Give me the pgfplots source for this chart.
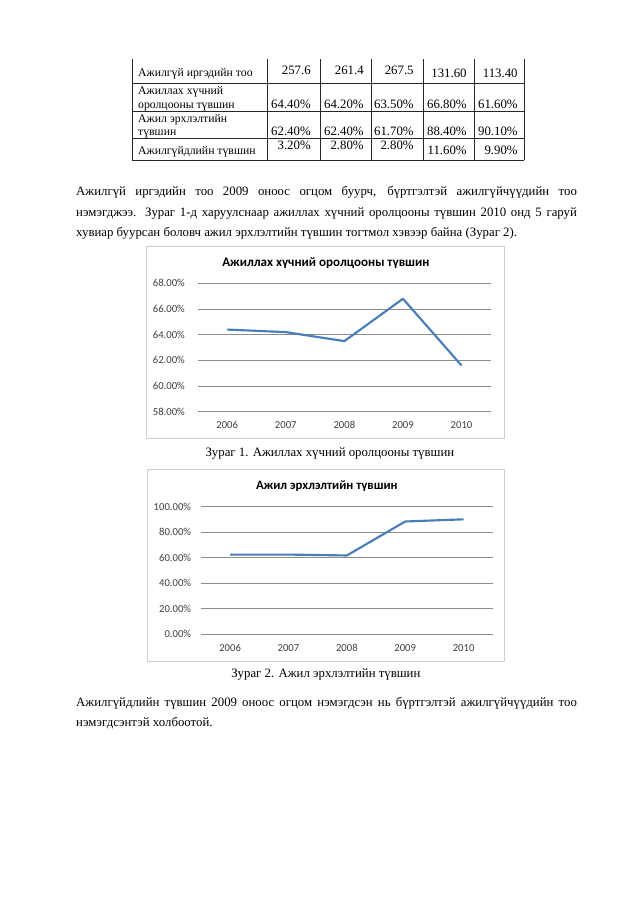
\documentclass[border=0pt]{standalone}
\usepackage{fontspec}
\setmainfont{Liberation Serif}
\newfontfamily\calibri{Carlito}
\usepackage{pgfplots}
\pgfplotsset{compat=1.18}
\definecolor{exblue}{HTML}{4A7EBB}
\definecolor{exgrid}{HTML}{8C8C8C}
\definecolor{exframe}{HTML}{CFCFCF}
\definecolor{extick}{HTML}{404040}
\newcommand{\bodyfont}{\fontsize{12}{14}\selectfont}
\newcommand{\tabfont}{\fontsize{12}{14}\selectfont}
\newcommand{\labfont}{\fontsize{11}{13}\selectfont}
\begin{document}
\begin{tikzpicture}[x=0.93304bp,y=-0.93336bp]
\fill[white] (0,0) rectangle (638,902);
% ---------- table ----------
\begin{scope}[line width=0.5bp]
\foreach \x in {132,267,320,371,423,474,524} \draw[black!85] (\x,59) -- (\x,160);
\foreach \y in {83,111.5,138.5,160} \draw[black!85] (132,\y) -- (524,\y);
\end{scope}
\begin{scope}[every node/.style={inner sep=0pt, font=\labfont}]
\node[anchor=base west] at (138,76) {Ажилгүй иргэдийн тоо};
\node[anchor=base west] at (138,94) {Ажиллах хүчний};
\node[anchor=base west] at (138,108) {оролцооны түвшин};
\node[anchor=base west] at (138,122) {Ажил эрхлэлтийн};
\node[anchor=base west] at (138,135) {түвшин};
\node[anchor=base west] at (138,154) {Ажилгүйдлийн түвшин};
\end{scope}
\begin{scope}[every node/.style={inner sep=0pt, font=\tabfont}]
% row 1
\node[anchor=base east] at (311,74) {257.6};
\node[anchor=base east] at (364,74) {261.4};
\node[anchor=base east] at (414,74) {267.5};
\node[anchor=base east] at (467,77) {131.60};
\node[anchor=base east] at (518,77) {113.40};
% row 2
\node[anchor=base east] at (311,108) {64.40\%};
\node[anchor=base east] at (364,108) {64.20\%};
\node[anchor=base east] at (414,108) {63.50\%};
\node[anchor=base east] at (467,108) {66.80\%};
\node[anchor=base east] at (518,108) {61.60\%};
% row 3
\node[anchor=base east] at (311,135) {62.40\%};
\node[anchor=base east] at (364,135) {62.40\%};
\node[anchor=base east] at (414,135) {61.70\%};
\node[anchor=base east] at (467,135) {88.40\%};
\node[anchor=base east] at (518,135) {90.10\%};
% row 4
\node[anchor=base east] at (311,149) {3.20\%};
\node[anchor=base east] at (364,149) {2.80\%};
\node[anchor=base east] at (414,149) {2.80\%};
\node[anchor=base east] at (467,154) {11.60\%};
\node[anchor=base east] at (518,154) {9.90\%};
\end{scope}
% ---------- paragraphs ----------
\begin{scope}[every node/.style={inner sep=0pt, font=\bodyfont, anchor=base west}]
\node at (76,195.5) {\makebox[467.4bp][s]{Ажилгүй иргэдийн тоо 2009 оноос огцом буурч, бүртгэлтэй ажилгүйчүүдийн тоо}};
\node at (76,216) {\makebox[467.4bp][s]{нэмэгджээ. Зураг 1-д харуулснаар ажиллах хүчний оролцооны түвшин 2010 онд 5 гаруй}};
\node at (76,236.5) {хувиар буурсан боловч ажил эрхлэлтийн түвшин тогтмол хэвээр байна (Зураг 2).};
\node at (76,706.5) {\makebox[467.4bp][s]{Ажилгүйдлийн түвшин 2009 оноос огцом нэмэгдсэн нь бүртгэлтэй ажилгүйчүүдийн тоо}};
\node at (76,726.5) {нэмэгдсэнтэй холбоотой.};
\end{scope}
% ---------- chart frames, titles, captions ----------
\draw[exframe, line width=0.75bp] (146.5,246.5) rectangle (505,438.3);
\draw[exframe, line width=0.75bp] (147.3,469) rectangle (505,661);
\node[inner sep=0pt, font=\calibri\bfseries\fontsize{12.2}{14}\selectfont] at (326,263) {Ажиллах хүчний оролцооны түвшин};
\node[inner sep=0pt, font=\calibri\bfseries\fontsize{12}{14}\selectfont] at (327,486) {Ажил эрхлэлтийн түвшин};
\node[inner sep=0pt, font=\bodyfont, anchor=base] at (330,456) {Зураг 1. Ажиллах хүчний оролцооны түвшин};
\node[inner sep=0pt, font=\bodyfont, anchor=base] at (326,677) {Зураг 2. Ажил эрхлэлтийн түвшин};
% ---------- chart 1 ----------
\begin{axis}[at={(184.74bp,-384.27bp)}, anchor=south west, scale only axis,
  width=273.4bp, height=119.8bp,
  xmin=-0.5, xmax=4.5, ymin=58, ymax=68,
  xtick={0,1,2,3,4}, xticklabels={2006,2007,2008,2009,2010},
  ytick={58,60,62,64,66,68},
  yticklabels={58.00\%,60.00\%,62.00\%,64.00\%,66.00\%,68.00\%},
  axis line style={draw=none}, major tick length=0pt,
  ymajorgrids, grid style={exgrid, line width=0.6bp},
  /pgf/number format/assume math mode=true,
  tick label style={font=\calibri\fontsize{10}{12}\selectfont, text=extick, inner sep=0pt},
  yticklabel style={xshift=-12bp, text height=7bp, text depth=0.5bp},
  xticklabel style={yshift=-8.5bp, text height=7bp, text depth=0pt},
  clip=false]
\addplot[exblue, line width=2bp, line join=round, no markers] coordinates {(0,64.4) (1,64.2) (2,63.5) (3,66.8) (4,61.6)};
\end{axis}
% ---------- chart 2 ----------
\begin{axis}[at={(187.54bp,-591.75bp)}, anchor=south west, scale only axis,
  width=272.4bp, height=118.8bp,
  xmin=-0.5, xmax=4.5, ymin=0, ymax=100,
  xtick={0,1,2,3,4}, xticklabels={2006,2007,2008,2009,2010},
  ytick={0,20,40,60,80,100},
  yticklabels={0.00\%,20.00\%,40.00\%,60.00\%,80.00\%,100.00\%},
  axis line style={draw=none}, major tick length=0pt,
  ymajorgrids, grid style={exgrid, line width=0.6bp},
  /pgf/number format/assume math mode=true,
  tick label style={font=\calibri\fontsize{10}{12}\selectfont, text=extick, inner sep=0pt},
  yticklabel style={xshift=-9bp, text height=7bp, text depth=0.5bp},
  xticklabel style={yshift=-9.5bp, text height=7bp, text depth=0pt},
  clip=false]
\addplot[exblue, line width=2bp, line join=round, no markers] coordinates {(0,62.4) (1,62.4) (2,61.7) (3,88.4) (4,90.1)};
\end{axis}
\end{tikzpicture}
\end{document}
